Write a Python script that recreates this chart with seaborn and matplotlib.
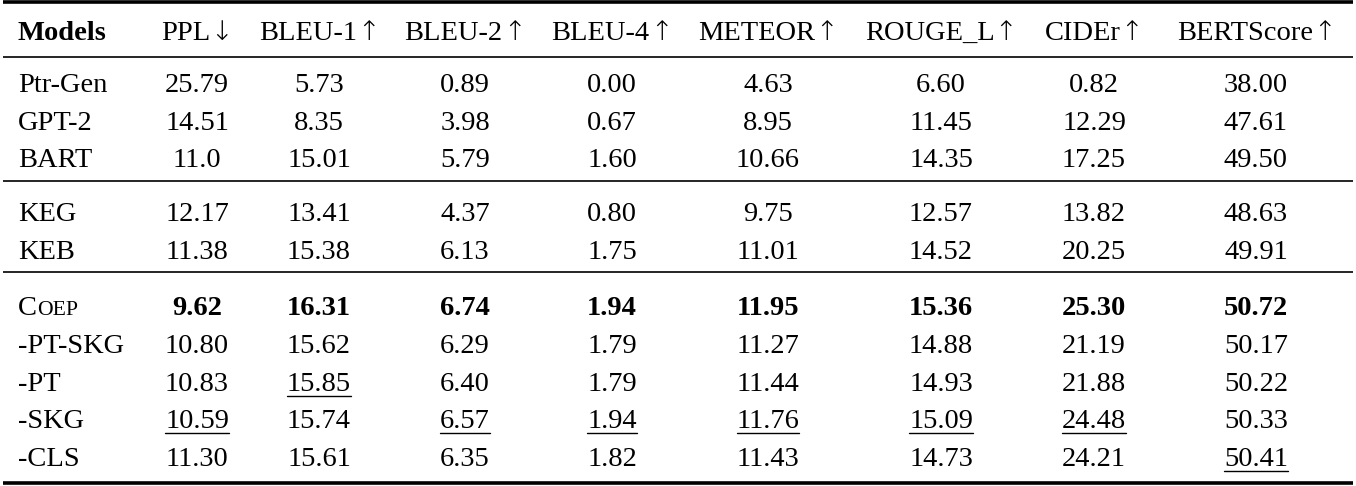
import numpy as np
import matplotlib
matplotlib.use('Agg')
import matplotlib.pyplot as plt
import seaborn as sns

# table content
headers = ['Models', 'PPL↓', 'BLEU-1↑', 'BLEU-2↑', 'BLEU-4↑', 'METEOR↑', 'ROUGE_L↑', 'CIDEr↑', 'BERTScore↑']
models = ['Ptr-Gen', 'GPT-2', 'BART', 'KEG', 'KEB', 'COEP', '-PT-SKG', '-PT', '-SKG', '-CLS']
ppl = ['25.79', '14.51', '11.0', '12.17', '11.38', '9.62', '10.80', '10.83', '10.59', '11.30']
bleu1 = ['5.73', '8.35', '15.01', '13.41', '15.38', '16.31', '15.62', '15.85', '15.74', '15.61']
bleu2 = ['0.89', '3.98', '5.79', '4.37', '6.13', '6.74', '6.29', '6.40', '6.57', '6.35']
bleu4 = ['0.00', '0.67', '1.60', '0.80', '1.75', '1.94', '1.79', '1.79', '1.94', '1.82']
meteor = ['4.63', '8.95', '10.66', '9.75', '11.01', '11.95', '11.27', '11.44', '11.76', '11.43']
rouge = ['6.60', '11.45', '14.35', '12.57', '14.52', '15.36', '14.88', '14.93', '15.09', '14.73']
cider = ['0.82', '12.29', '17.25', '13.82', '20.25', '25.30', '21.19', '21.88', '24.48', '24.21']
bert = ['38.00', '47.61', '49.50', '48.63', '49.91', '50.72', '50.17', '50.22', '50.33', '50.41']
columns = [ppl, bleu1, bleu2, bleu4, meteor, rouge, cider, bert]

bold_row = 'COEP'
# (model, column index) pairs that are underlined (second best)
underlined = [('-PT', 1), ('-SKG', 0), ('-SKG', 2), ('-SKG', 3), ('-SKG', 4),
              ('-SKG', 5), ('-SKG', 6), ('-CLS', 7)]

# layout in pixels
W, H = 1356, 486
col_x = [197, 319, 465, 612, 768, 941, 1094, 1256]
header_y = 40
row_y = [92, 130, 167, 221, 259, 315, 353, 391, 428, 466]
rules = [(2, 2.6), (57, 1.2), (181, 1.2), (272, 1.2), (483, 2.6)]

sns.set_style('white')
plt.rcParams['font.family'] = ['Liberation Serif', 'DejaVu Serif']
plt.rcParams['text.color'] = 'black'
fs = 20.5

fig = plt.figure(figsize=(W / 100, H / 100), dpi=100)
ax = fig.add_axes([0, 0, 1, 1])
ax.set_xlim(0, W)
ax.set_ylim(H, 0)
ax.axis('off')

for y, lw in rules:
    ax.plot([3, W - 3], [y, y], color='black', lw=lw, solid_capstyle='butt')

fig.canvas.draw()
renderer = fig.canvas.get_renderer()
inv = ax.transData.inverted()


def width_px(t):
    bb = t.get_window_extent(renderer)
    (xa, _), (xb, _) = inv.transform([(bb.x0, bb.y0), (bb.x1, bb.y0)])
    return xa, xb


ax.text(18, header_y, headers[0], fontsize=fs, fontweight='bold', va='baseline', ha='left')
for x, h in zip(col_x, headers[1:]):
    # name in serif, arrow in a light sans so it is tall and thin like the reference
    name = ax.text(0, header_y, h[:-1], fontsize=fs, va='baseline', ha='left')
    arrow = ax.text(0, header_y, h[-1], fontsize=fs * 0.95, va='baseline', ha='left',
                    family='DejaVu Sans', fontweight='light')
    a0, a1 = width_px(name)
    b0, b1 = width_px(arrow)
    wn, wa = a1 - a0, b1 - b0
    left = x - (wn + wa) / 2
    name.set_x(left)
    arrow.set_x(left + wn)

for i, m in enumerate(models):
    y = row_y[i]
    if m == bold_row:
        t = ax.text(18, y, m[0], fontsize=fs, va='baseline', ha='left')
        x1 = width_px(t)[1]
        ax.text(x1, y, m[1:], fontsize=fs * 0.76, va='baseline', ha='left')
    else:
        ax.text(18, y, m, fontsize=fs, va='baseline', ha='left')
    for j, col in enumerate(columns):
        w = 'bold' if m == bold_row else 'normal'
        t = ax.text(col_x[j], y, col[i], fontsize=fs, fontweight=w, va='baseline', ha='center')
        if (m, j) in underlined:
            xa, xb = width_px(t)
            ax.plot([xa, xb], [y + 5, y + 5], color='black', lw=1.0)

fig.savefig('out.png', dpi=100)
